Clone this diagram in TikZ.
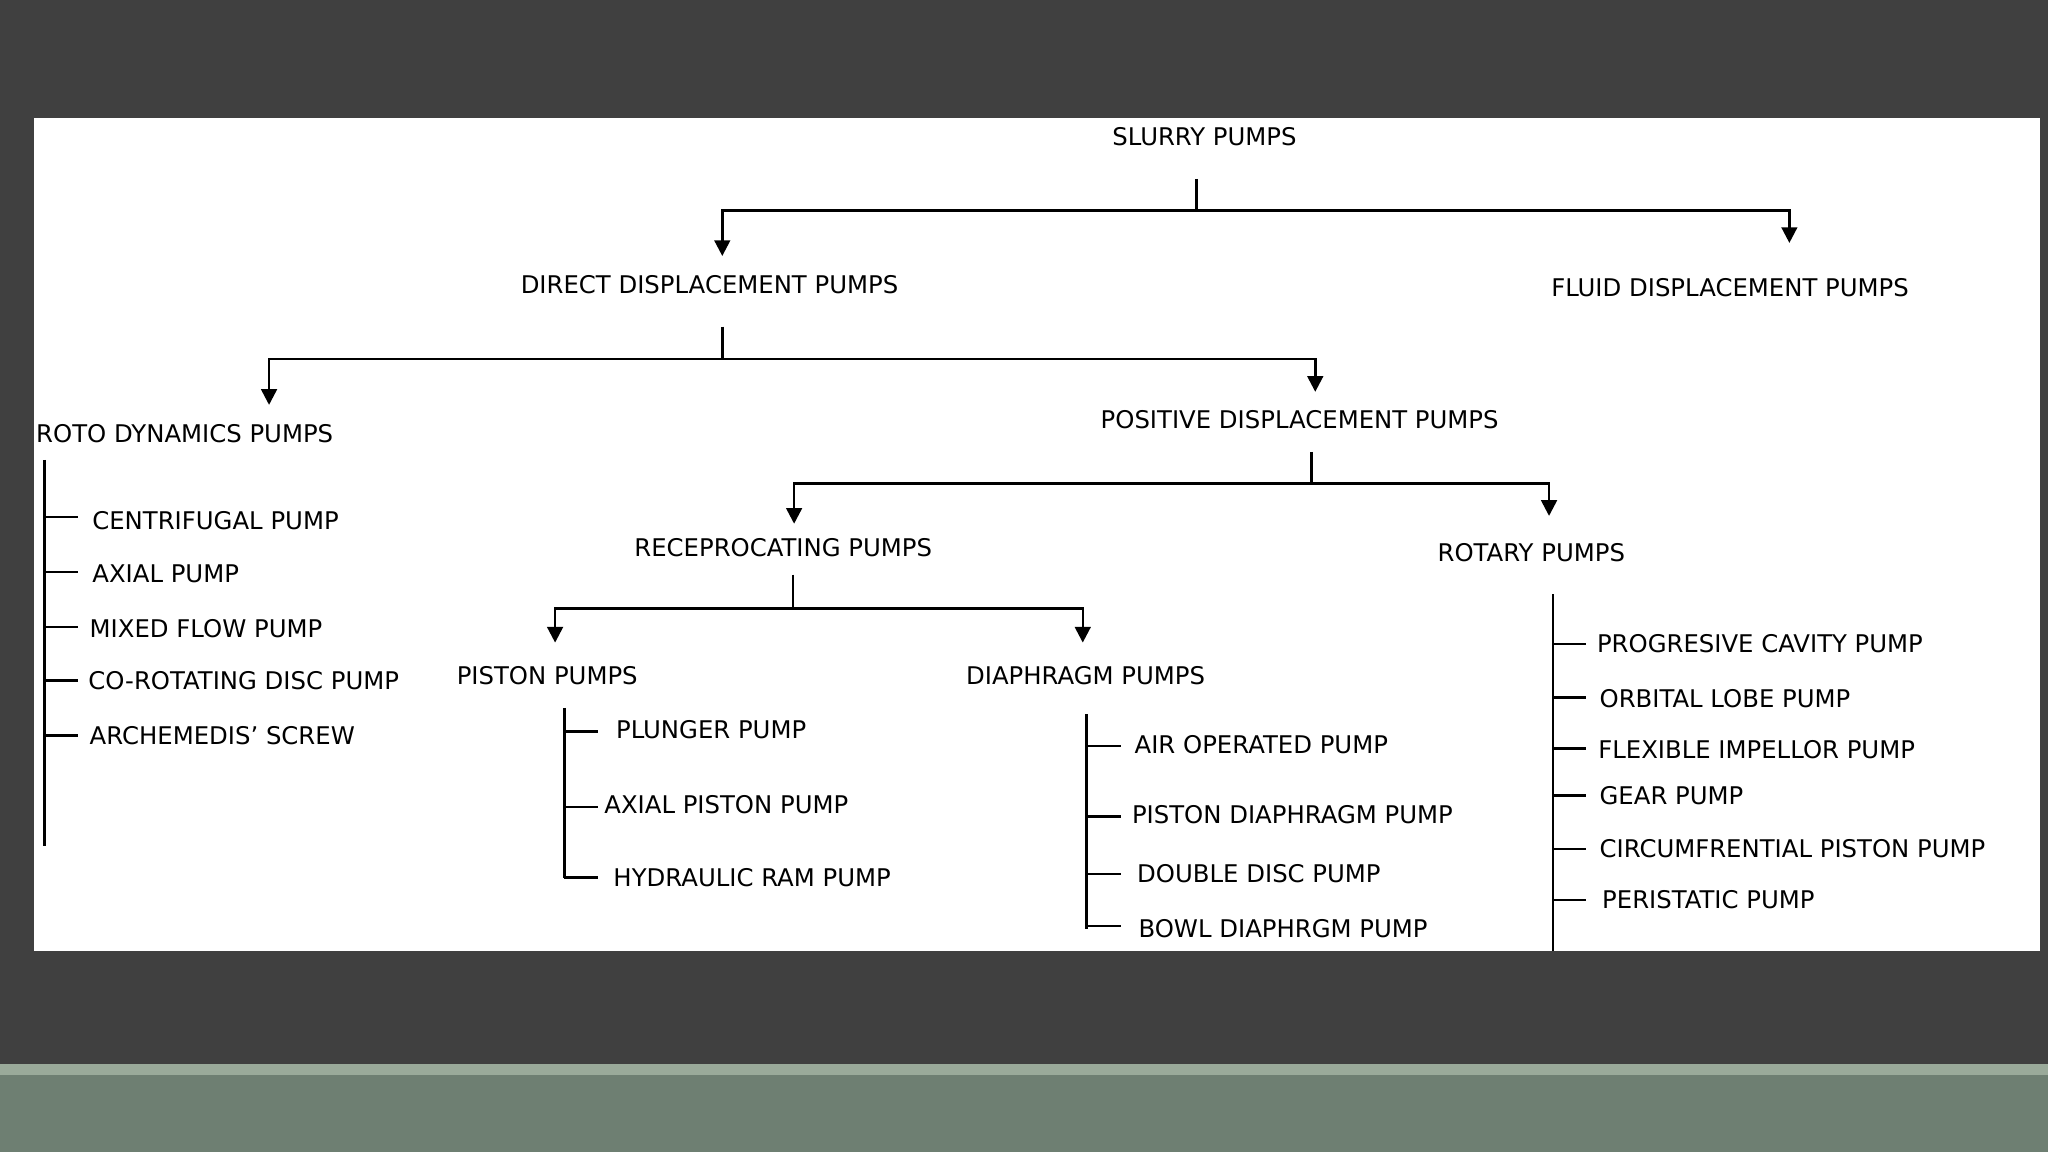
\documentclass[tikz,border=0pt]{standalone}
\usepackage{fontspec}
\setmainfont{DejaVu Sans}
\usetikzlibrary{arrows.meta}
\begin{document}
\begin{tikzpicture}[x=0.01cm,y=-0.01cm,
  lbl/.style={anchor=west,inner sep=0pt,font=\fontsize{5.3}{6}\selectfont},
  ln/.style={line width=0.55pt,black},
  arr/.style={ln,-{Triangle[width=0.12cm,length=0.12cm]}}]
\useasboundingbox (0,0) rectangle (1568,882);
\fill[black!75] (0,0) rectangle (1568,815);
\fill[white] (26,90) rectangle (1562,728);
\fill[color={rgb,255:red,154;green,170;blue,154}] (0,815) rectangle (1568,823);
\fill[color={rgb,255:red,110;green,127;blue,114}] (0,823) rectangle (1568,882);
% nodes
\node[lbl] (slurry) at (851,105) {SLURRY PUMPS};
\node[lbl] (direct) at (398,218) {DIRECT DISPLACEMENT PUMPS};
\node[lbl] (fluid) at (1187,220) {FLUID DISPLACEMENT PUMPS};
\node[lbl] (roto) at (27,332) {ROTO DYNAMICS PUMPS};
\node[lbl] (pos) at (842,321) {POSITIVE DISPLACEMENT PUMPS};
\node[lbl] (recip) at (485,419) {RECEPROCATING PUMPS};
\node[lbl] (rotary) at (1100,423) {ROTARY PUMPS};
\node[lbl] (piston) at (349,517) {PISTON PUMPS};
\node[lbl] (diaph) at (739,517) {DIAPHRAGM PUMPS};
\node[lbl] (r1) at (70,399) {CENTRIFUGAL PUMP};
\node[lbl] (r2) at (70,439) {AXIAL PUMP};
\node[lbl] (r3) at (68,481) {MIXED FLOW PUMP};
\node[lbl] (r4) at (67,521) {CO-ROTATING DISC PUMP};
\node[lbl] (r5) at (68,563) {ARCHEMEDIS' SCREW};
\node[lbl] (p1) at (471,559) {PLUNGER PUMP};
\node[lbl] (p2) at (462,616) {AXIAL PISTON PUMP};
\node[lbl] (p3) at (469,672) {HYDRAULIC RAM PUMP};
\node[lbl] (d1) at (868,570) {AIR OPERATED PUMP};
\node[lbl] (d2) at (866,624) {PISTON DIAPHRAGM PUMP};
\node[lbl] (d3) at (870,669) {DOUBLE DISC PUMP};
\node[lbl] (d4) at (871,711) {BOWL DIAPHRGM PUMP};
\node[lbl] (q1) at (1222,493) {PROGRESIVE CAVITY PUMP};
\node[lbl] (q2) at (1224,535) {ORBITAL LOBE PUMP};
\node[lbl] (q3) at (1223,574) {FLEXIBLE IMPELLOR PUMP};
\node[lbl] (q4) at (1224,609) {GEAR PUMP};
\node[lbl] (q5) at (1224,650) {CIRCUMFRENTIAL PISTON PUMP};
\node[lbl] (q6) at (1226,689) {PERISTATIC PUMP};
% tree connectors
\coordinate (a0) at (916,137); \coordinate (a1) at (916,161);
\draw[ln] (a0) -- (a1);
\draw[arr] (a1) -- (553,161) -- (553,196);
\draw[arr] (a1) -- (1370,161) -- (1370,186);
\coordinate (b0) at (553,250); \coordinate (b1) at (553,275);
\draw[ln] (b0) -- (b1);
\draw[arr] (b1) -- (206,275) -- (206,310);
\draw[arr] (b1) -- (1007,275) -- (1007,300);
\coordinate (c0) at (1004,346); \coordinate (c1) at (1004,370);
\draw[ln] (c0) -- (c1);
\draw[arr] (c1) -- (608,370) -- (608,401);
\draw[arr] (c1) -- (1186,370) -- (1186,395);
\coordinate (e0) at (607,440); \coordinate (e1) at (607,466);
\draw[ln] (e0) -- (e1);
\draw[arr] (e1) -- (425,466) -- (425,492);
\draw[arr] (e1) -- (829,466) -- (829,492);
% lists
\draw[ln] (34,352) -- (34,648);
\foreach \y in {396,438,480,521,563} \draw[ln] (34,\y) -- (60,\y);
\draw[ln] (432,542) -- (432,672);
\foreach \y in {560,618,672} \draw[ln] (432,\y) -- (458,\y);
\draw[ln] (832,547) -- (832,711);
\foreach \y in {571,625,669,709} \draw[ln] (832,\y) -- (858,\y);
\draw[ln] (1189,455) -- (1189,728);
\foreach \y in {493,534,573,609,650,689} \draw[ln] (1189,\y) -- (1214,\y);
\end{tikzpicture}
\end{document}
